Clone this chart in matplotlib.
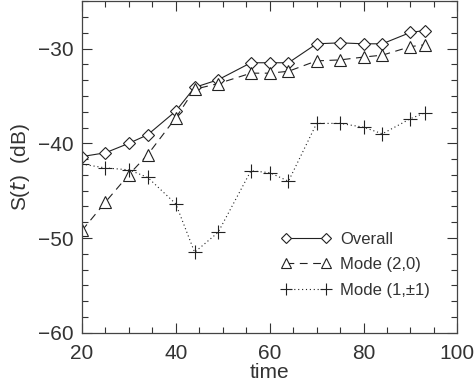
import matplotlib
matplotlib.use("Agg")
import matplotlib.pyplot as plt
from matplotlib.ticker import MultipleLocator

# data
time = [20, 25, 30, 34, 40, 44, 49, 56, 60, 64, 70, 75, 80, 84, 90, 93]
overall = [-41.4, -41.0, -40.0, -39.1, -36.6, -34.1, -33.3, -31.5,
           -31.5, -31.5, -29.5, -29.4, -29.5, -29.5, -28.3, -28.1]
mode_20 = [-49.2, -46.2, -43.3, -41.2, -37.3, -34.3, -33.7, -32.6,
           -32.6, -32.4, -31.3, -31.2, -30.9, -30.7, -29.8, -29.6]
mode_11 = [-42.2, -42.6, -42.8, -43.6, -46.4, -51.5, -49.4, -42.9,
           -43.1, -44.0, -37.9, -37.9, -38.3, -39.0, -37.4, -36.8]
labels = ["Overall", "Mode (2,0)", "Mode (1,\u00b11)"]

plt.rcParams['font.family'] = ['Liberation Sans', 'DejaVu Sans']

fig = plt.figure(figsize=(4.74, 3.83), dpi=100)
ax = fig.add_axes([0.173, 0.131, 0.792, 0.866])

ln = 0.8
ax.plot(time, overall, color='#222222', lw=ln, ls='-', marker='D', ms=6,
        mfc='white', mec='#222222', mew=0.8, label=labels[0])
ax.plot(time, mode_20, color='#222222', lw=ln, ls=(0, (7, 5)), marker='^', ms=8,
        mfc='white', mec='#222222', mew=0.8, label=labels[1])
ax.plot(time, mode_11, color='#222222', lw=ln, ls=(0, (1, 2.5)), marker='+', ms=10,
        mec='#222222', mew=0.8, label=labels[2])

ax.set_xlim(20, 100)
ax.set_ylim(-60, -25)
ax.xaxis.set_major_locator(MultipleLocator(20))
ax.xaxis.set_minor_locator(MultipleLocator(5))
ax.yaxis.set_minor_locator(MultipleLocator(10 / 6))
ax.set_yticks([-60, -50, -40, -30])
ax.set_yticklabels(['\u221260', '\u221250', '\u221240', '\u221230'])

ax.tick_params(which='both', direction='in', top=True, right=True,
               labelsize=15, colors='#333333', width=0.8)
ax.tick_params(which='major', length=7)
ax.tick_params(axis='x', which='major', pad=8)
ax.tick_params(axis='y', which='major', pad=6)
ax.tick_params(which='minor', length=4)
for s in ax.spines.values():
    s.set_color('#444444')
    s.set_linewidth(0.9)

ax.set_xlabel('time', fontsize=15, color='#333333', labelpad=0)
ax.set_ylabel(r'S($\mathit{t}$)  (dB)', fontsize=15, color='#333333', labelpad=4)

leg = ax.legend(loc='center left', bbox_to_anchor=(0.53, 0.205), frameon=False,
                fontsize=12, handlelength=3.0, labelspacing=0.62, borderpad=0,
                borderaxespad=0, handletextpad=0.55, numpoints=2, markerscale=0.85)
for t in leg.get_texts():
    t.set_color('#333333')

fig.savefig('out.png', dpi=100)
